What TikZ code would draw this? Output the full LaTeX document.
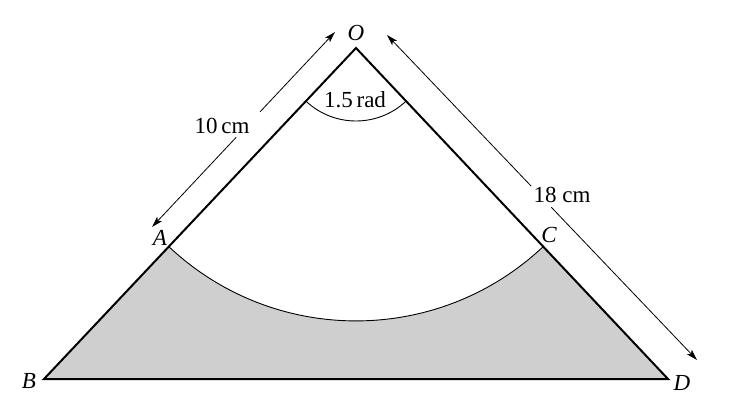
\documentclass[tikz,border=0pt]{standalone}
\usepackage{fontspec}
\setmainfont{Liberation Serif}
\usetikzlibrary{calc,arrows.meta}
\begin{document}
\begin{tikzpicture}[x=1pt,y=-1pt,
  edge/.style={line width=2pt,line join=miter},
  thinarc/.style={line width=0.9pt},
  dim/.style={line width=0.8pt},
  tipped/.style={-{Stealth[length=11pt,width=6.5pt,inset=2.5pt]}},
  lab/.style={font=\fontsize{23}{27}\selectfont},
  pt/.style={font=\fontsize{23}{27}\selectfont\itshape}]
\useasboundingbox (0,0) rectangle (730,417);
\coordinate (O) at (356,48);
\coordinate (B) at (44,379);
\coordinate (D) at (668,379);
\coordinate (A) at ($(O)!0.6!(B)$);
\coordinate (C) at ($(O)!0.6!(D)$);
% shaded region
\fill[black!19] (A) -- (B) -- (D) -- (C) arc[start angle=46.69,end angle=133.31,radius=272.9] -- cycle;
\draw[thinarc] (C) arc[start angle=46.69,end angle=133.31,radius=272.9];
% triangle
\draw[edge] (B) -- (O) -- (D) -- cycle;
% angle arc
\coordinate (a1) at ($(O)+(46.69:73)$);
\draw[thinarc] (a1) arc[start angle=46.69,end angle=133.31,radius=73];
\node[lab] (rad) at (355,100) {1.5\,rad};
% dimension 10 cm
\coordinate (L1) at (335,32);
\coordinate (L2) at (152,227);
\coordinate (Lg1) at ($(L1)!0.41!(L2)$);
\coordinate (Lg2) at ($(L1)!0.54!(L2)$);
\draw[dim,tipped] (Lg1) -- (L1);
\draw[dim,tipped] (Lg2) -- (L2);
\node[lab] (ten) at (222,126) {10\,cm};
% dimension 18 cm
\coordinate (R1) at (387,35);
\coordinate (R2) at (697,360);
\coordinate (Rg1) at ($(R1)!0.465!(R2)$);
\coordinate (Rg2) at ($(R1)!0.53!(R2)$);
\draw[dim,tipped] (Rg1) -- (R1);
\draw[dim,tipped] (Rg2) -- (R2);
\node[lab] (eighteen) at (562,195) {18 cm};
% point labels
\node[pt] (lO) at (356,33) {O};
\node[pt] (lA) at (160,238) {A};
\node[pt] (lC) at (549,235) {C};
\node[pt] (lB) at (29,381) {B};
\node[pt] (lD) at (682,383) {D};
\end{tikzpicture}
\end{document}
